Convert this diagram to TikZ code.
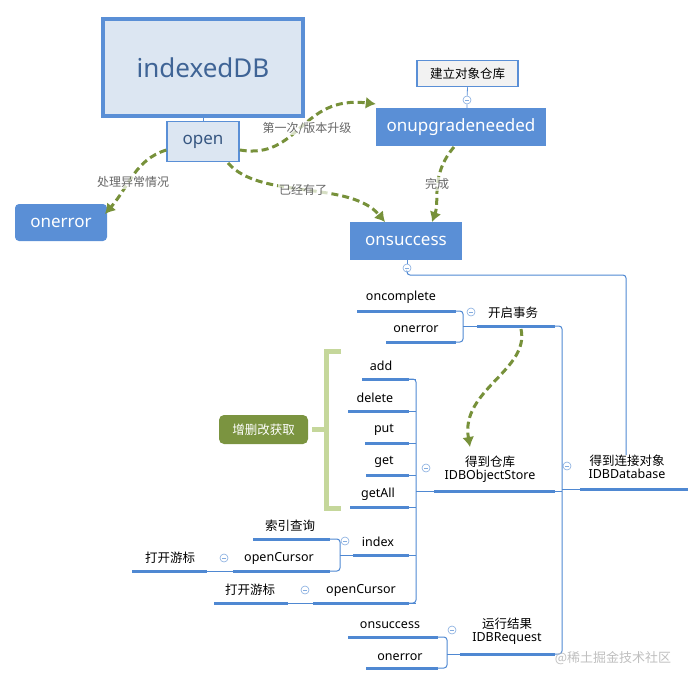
\documentclass[tikz,border=0pt]{standalone}
\usepackage{fontspec}
\usetikzlibrary{arrows.meta}
\setmainfont{Noto Sans}
\newfontfamily\cjk{Noto Sans CJK SC}
\begin{document}
\begin{tikzpicture}[x=1pt,y=-1pt,
  font=\fontsize{12.5}{14}\selectfont,
  lbl/.style={inner sep=1pt},
  ul/.style={draw=uline,line width=3pt},
  con/.style={draw=uline,line width=1pt,rounded corners=3pt},
  big/.style={fill=hblue,text=white,font=\fontsize{17}{19}\selectfont\bfseries,inner sep=0pt},
  gdash/.style={draw=dgreen,line width=3pt,dash pattern=on 7pt off 4pt,-{Latex[length=10pt,width=12pt]}},
  dlbl/.style={text=gray!80!black,font=\cjk\itshape\fontsize{12}{14}\selectfont,fill=white,fill opacity=.7,text opacity=1,inner sep=1pt},
  mn/.style={circle,draw=uline!70,fill=white,minimum size=8pt,inner sep=0pt,line width=.6pt,
    path picture={\draw[uline!70,line width=.6pt] ([xshift=-2pt]path picture bounding box.center)--([xshift=2pt]path picture bounding box.center);}},
]
\definecolor{uline}{HTML}{4F88D2}
\definecolor{hblue}{HTML}{5A8FD6}
\definecolor{lfill}{HTML}{DCE6F2}
\definecolor{dgreen}{HTML}{77913A}
\definecolor{tgreen}{HTML}{7B9440}
\definecolor{bgreen}{HTML}{C5D79B}
\useasboundingbox (0,0) rectangle (699,686);

% top part
\node[draw=hblue,line width=4pt,fill=lfill,minimum width=200pt,minimum height=97pt,inner sep=0pt,
  text=hblue!70!black,font=\fontsize{26}{28}\selectfont\bfseries] (idb) at (203,67.5) {indexedDB};
\node[draw=hblue,line width=1.5pt,fill=lfill,minimum width=72pt,minimum height=40pt,inner sep=0pt,
  text=hblue!60!black,font=\fontsize{17}{19}\selectfont] (open) at (203,141.5) {open};
\draw[hblue,line width=1pt] (idb.south) -- (open.north);
\node[big,minimum width=170pt,minimum height=38pt] (upg) at (461,127) {onupgradeneeded};
\node[draw=hblue,line width=1.5pt,fill=gray!10,minimum width=101pt,minimum height=26pt,inner sep=0pt,
  font=\cjk\fontsize{12.5}{14}\selectfont] (store) at (467.5,73.5) {建立对象仓库};
\node[mn] (m0) at (467,100) {};
\draw[hblue,line width=.8pt] (store.south) -- (m0) -- (upg.north -| m0);
\node[big,rounded corners=4pt,minimum width=92pt,minimum height=37pt] (oerr) at (61,222.5) {onerror};
\node[big,minimum width=112pt,minimum height=38pt] (osuc) at (406,241) {onsuccess};
\node[mn] (m1) at (407,268) {};
\draw[hblue,line width=.8pt] (osuc.south -| m1) -- (m1);

\draw[gdash] (open.east |- 0,150) .. controls (300,160) and (300,95) .. (upg.west |- 0,104);
\node[dlbl] at (307,128) {第一次/版本升级};
\draw[gdash] (open.west |- 0,150) .. controls (135,160) and (130,185) .. (105,214);
\node[dlbl] at (133,182) {处理异常情况};
\draw[gdash] (228,163) .. controls (260,200) and (350,180) .. (385,222);
\node[dlbl] at (303,190) {已经有了};
\draw[gdash] (454,147) .. controls (430,175) and (440,200) .. (432,222);
\node[dlbl] at (437,184) {完成};

% tree
\node[lbl,font=\cjk\fontsize{12.5}{14}\selectfont,align=center] (db) at (627,467) {得到连接对象\\[-1pt]{\fontspec{Noto Sans}IDBDatabase}};
\draw[ul] (580,489) -- (688,489);
\draw[con] (m1) -- (407,275) -- (626,275) -- (626,455);
\node[mn] (mdb) at (567,466) {};
\draw[con] (580,489) -- (562,489);
\draw[con] (555,326) -- (562,326) -- (562,654) -- (555,654);
\draw[con] (555,491) -- (562,491);

% transaction
\node[lbl,font=\cjk\fontsize{12.5}{14}\selectfont] (tx) at (513,313) {开启事务};
\draw[ul] (477,326) -- (555,326);
\node[mn] (mtx) at (471,312) {};
\node[lbl] (oc) at (401,297) {oncomplete};
\draw[ul] (357,311) -- (456,311);
\node[lbl] (oe1) at (416,329) {onerror};
\draw[ul] (386,342) -- (456,342);
\draw[con] (456,311) -- (463,311) -- (463,342) -- (456,342);
\draw[con] (463,326) -- (477,326);
\draw[gdash] (521,329) .. controls (530,370) and (460,390) .. (470,447);

% object store
\node[lbl,font=\cjk\fontsize{12.5}{14}\selectfont,align=center] (os) at (490,469) {得到仓库\\[-1pt]{\fontspec{Noto Sans}IDBObjectStore}};
\draw[ul] (434,491) -- (555,491);
\node[mn] (mos) at (426,468) {};
\draw[con] (409,379) -- (416,379) -- (416,603) -- (409,603);
\draw[con] (416,491) -- (434,491);
\foreach \n/\t/\x/\y/\a in {add/add/381/366/362, del/delete/375/398/348, put/put/384/430/365,
  get/get/384/462/366, gall/getAll/378/494/350, idx/index/378/542/353, oc2/openCursor/361/590/313}{
  \node[lbl] (\n) at (\x,\y) {\t};
  \draw[ul] (\a,\y+13) -- (409,\y+13);
  \draw[con] (409,\y+13) -- (416,\y+13);
}
\node[mn] (moc2) at (305,590) {};
\node[lbl,font=\cjk\fontsize{12.5}{14}\selectfont] (cur2) at (250,590) {打开游标};
\draw[ul] (214,603) -- (288,603);
\draw[con] (288,603) -- (313,603);

% index
\node[mn] (midx) at (345,541) {};
\node[lbl,font=\cjk\fontsize{12.5}{14}\selectfont] (iq) at (290,526) {索引查询};
\draw[ul] (253,539) -- (330,539);
\node[lbl] (oc1) at (279,558) {openCursor};
\draw[ul] (233,571) -- (330,571);
\draw[con] (330,539) -- (340,539) -- (340,571) -- (330,571);
\draw[con] (340,555) -- (353,555);
\node[mn] (moc1) at (224,558) {};
\node[lbl,font=\cjk\fontsize{12.5}{14}\selectfont] (cur1) at (170,558) {打开游标};
\draw[ul] (132,571) -- (207,571);
\draw[con] (207,571) -- (233,571);

% request
\node[lbl,font=\cjk\fontsize{12.5}{14}\selectfont,align=center] (rq) at (507,631) {运行结果\\[-1pt]{\fontspec{Noto Sans}IDBRequest}};
\draw[ul] (460,654) -- (555,654);
\node[mn] (mrq) at (452,630) {};
\node[lbl] (rs) at (390,625) {onsuccess};
\draw[ul] (348,637) -- (438,637);
\node[lbl] (re) at (400,657) {onerror};
\draw[ul] (366,668) -- (438,668);
\draw[con] (438,637) -- (447,637) -- (447,668) -- (438,668);
\draw[con] (447,654) -- (460,654);

% bracket and label
\node[fill=tgreen,rounded corners=5pt,minimum width=89pt,minimum height=29pt,inner sep=0pt,
  text=white,font=\cjk\itshape\fontsize{12.5}{14}\selectfont] (crud) at (263.5,429.5) {增删改获取};
\draw[bgreen,line width=5pt] (341,351) -- (326,351) -- (326,508) -- (341,508);
\draw[bgreen,line width=5pt] (312,429) -- (326,429);

\node[text=gray!50,font=\cjk\fontsize{13}{15}\selectfont] (wm) at (613,658) {@稀土掘金技术社区};
\end{tikzpicture}
\end{document}
